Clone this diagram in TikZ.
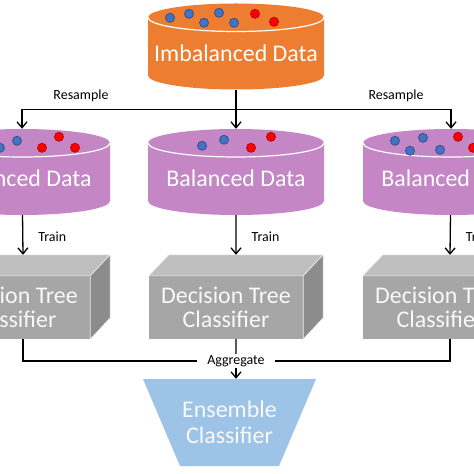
\documentclass[tikz,border=0pt]{standalone}
\usepackage{fontspec}
\setmainfont{Carlito}
\usepackage{xcolor}
\usepackage{tikz}
\usetikzlibrary{positioning, arrows.meta, calc}

\definecolor{imbal}{HTML}{ED7D31}
\definecolor{bal}{RGB}{196,134,196}
\definecolor{ensfill}{HTML}{9DC3E6}
\definecolor{boxfront}{RGB}{166,166,166}
\definecolor{boxtop}{RGB}{191,191,191}
\definecolor{boxside}{RGB}{140,140,140}
\definecolor{dotblue}{HTML}{4472C4}
\definecolor{dotred}{HTML}{FF0000}

\begin{document}
\begin{tikzpicture}[
    x=1bp, y=1bp,
    >={Straight Barb[length=6bp,width=10bp]},
    conn/.style={line width=1.3bp},
    lbl/.style={font=\fontsize{14}{16}\selectfont, inner sep=0pt},
    datacyl/.style={
        minimum width=176bp,
        minimum height=86bp,
        inner sep=0pt,
        text=white,
        font=\fontsize{24}{25}\selectfont,
        text height=31bp, text depth=1bp,
        path picture={
            \fill[#1] ([yshift=-14bp]path picture bounding box.north west)
                -- ([yshift=14bp]path picture bounding box.south west)
                arc[start angle=180,end angle=360,x radius=88bp,y radius=14bp]
                -- ([yshift=-14bp]path picture bounding box.north east)
                arc[start angle=0,end angle=180,x radius=88bp,y radius=14bp] -- cycle;
            \draw[white,line width=1.2bp] ([yshift=-14bp]path picture bounding box.north west)
                arc[start angle=180,end angle=360,x radius=88bp,y radius=14bp];
        }
    },
    cuboid/.style={
        fill=boxfront,
        minimum width=154bp,
        minimum height=63bp,
        inner sep=0pt,
        align=center,
        text=white!95!gray,
        font=\fontsize{24}{24}\selectfont
    },
    ensbox/.style={
        minimum width=173bp,
        minimum height=87bp,
        inner sep=0pt,
        align=center,
        text=white!95!gray,
        font=\fontsize{24}{26}\selectfont,
        path picture={
            \fill[ensfill] (path picture bounding box.north west)
                -- (path picture bounding box.north east)
                -- ([xshift=-37bp]path picture bounding box.south east)
                -- ([xshift=37bp]path picture bounding box.south west) -- cycle;
        }
    },
    bluedot/.style={fill=dotblue, draw=dotblue!70!black, line width=0.8bp},
    reddot/.style={fill=dotred, draw=dotred!75!black, line width=0.8bp}
]
  \path[use as bounding box, clip] (0,0) rectangle (474,-474);

  % data sets
  \node[datacyl=imbal] (imb) at (236,-46.5) {Imbalanced Data};
  \node[datacyl=bal] (bd1) at (22,-172) {Balanced Data};
  \node[datacyl=bal] (bd2) at (236,-172) {Balanced Data};
  \node[datacyl=bal] (bd3) at (451,-172) {Balanced Data};

  % samples on the top faces
  \foreach \x/\y in {-66/-14.5,-47/-10.5,-32/-19.5,-17/-9.5,-2/-19.5}
    \filldraw[bluedot] ([shift={(\x,\y)}]imb.north) circle[radius=4.5bp];
  \foreach \x/\y in {19/-10.5,38/-18.5}
    \filldraw[reddot] ([shift={(\x,\y)}]imb.north) circle[radius=4.5bp];
  \foreach \x/\y in {-22/-19,-5/-12}
    \filldraw[bluedot] ([shift={(\x,\y)}]bd1.north) circle[radius=4.5bp];
  \foreach \x/\y in {20/-19,37/-8,53/-19}
    \filldraw[reddot] ([shift={(\x,\y)}]bd1.north) circle[radius=4.5bp];
  \foreach \x/\y in {-34/-17,-12/-11}
    \filldraw[bluedot] ([shift={(\x,\y)}]bd2.north) circle[radius=4.5bp];
  \foreach \x/\y in {15/-19,35/-8}
    \filldraw[reddot] ([shift={(\x,\y)}]bd2.north) circle[radius=4.5bp];
  \foreach \x/\y in {-56/-12,-41/-22,-28/-9,-11/-21}
    \filldraw[bluedot] ([shift={(\x,\y)}]bd3.north) circle[radius=4.5bp];
  \foreach \x/\y in {7/-8,22/-19}
    \filldraw[reddot] ([shift={(\x,\y)}]bd3.north) circle[radius=4.5bp];

  % classifiers
  \node[cuboid] (dt1) at (13,-307.5) {Decision Tree\\Classifier};
  \node[cuboid] (dt2) at (226,-307.5) {Decision Tree\\Classifier};
  \node[cuboid] (dt3) at (440,-307.5) {Decision Tree\\Classifier};
  \foreach \n in {dt1,dt2,dt3}{
    \filldraw[fill=boxtop, draw=white!85!gray, line width=0.6bp]
      (\n.north west) -- ++(20,21) -- ++(154,0) -- (\n.north east) -- cycle;
    \filldraw[fill=boxside, draw=white!85!gray, line width=0.6bp]
      (\n.north east) -- ++(20,21) -- ++(0,-63) -- (\n.south east) -- cycle;
    \coordinate (\n-in) at ([xshift=10bp,yshift=21bp]\n.north);
    \coordinate (\n-out) at ([xshift=10bp]\n.south);
  }

  \node[ensbox] (ens) at (229.5,-422.5) {Ensemble\\Classifier};

  % resampling
  \coordinate (rs) at ($(imb.south)!0.5!(bd2.north)$);
  \draw[conn,->] (imb) -- (bd2);
  \draw[conn,->] (rs) -| (bd1);
  \draw[conn,->] (rs) -| (bd3);
  \node[lbl] (rs1) at (81,-95.5) {Resample};
  \node[lbl] (rs2) at (396,-95.5) {Resample};

  % training
  \draw[conn,->] (bd1) -- (dt1-in) node[lbl,pos=0.55,right=15bp] {Train};
  \draw[conn,->] (bd2) -- (dt2-in) node[lbl,pos=0.55,right=15bp] {Train};
  \draw[conn,->] (bd3) -- (dt3-in) node[lbl,pos=0.55,right=15bp] {Train};

  % aggregation
  \node[lbl,fill=white,inner xsep=10bp,inner ysep=1bp] (agg) at (236,-361) {Aggregate};
  \draw[conn] (dt1-out) |- (agg);
  \draw[conn] (dt3-out) |- (agg);
  \draw[conn] (dt2-out) -- (agg);
  \draw[conn,->] (agg) -- (agg |- ens.north);
\end{tikzpicture}
\end{document}
